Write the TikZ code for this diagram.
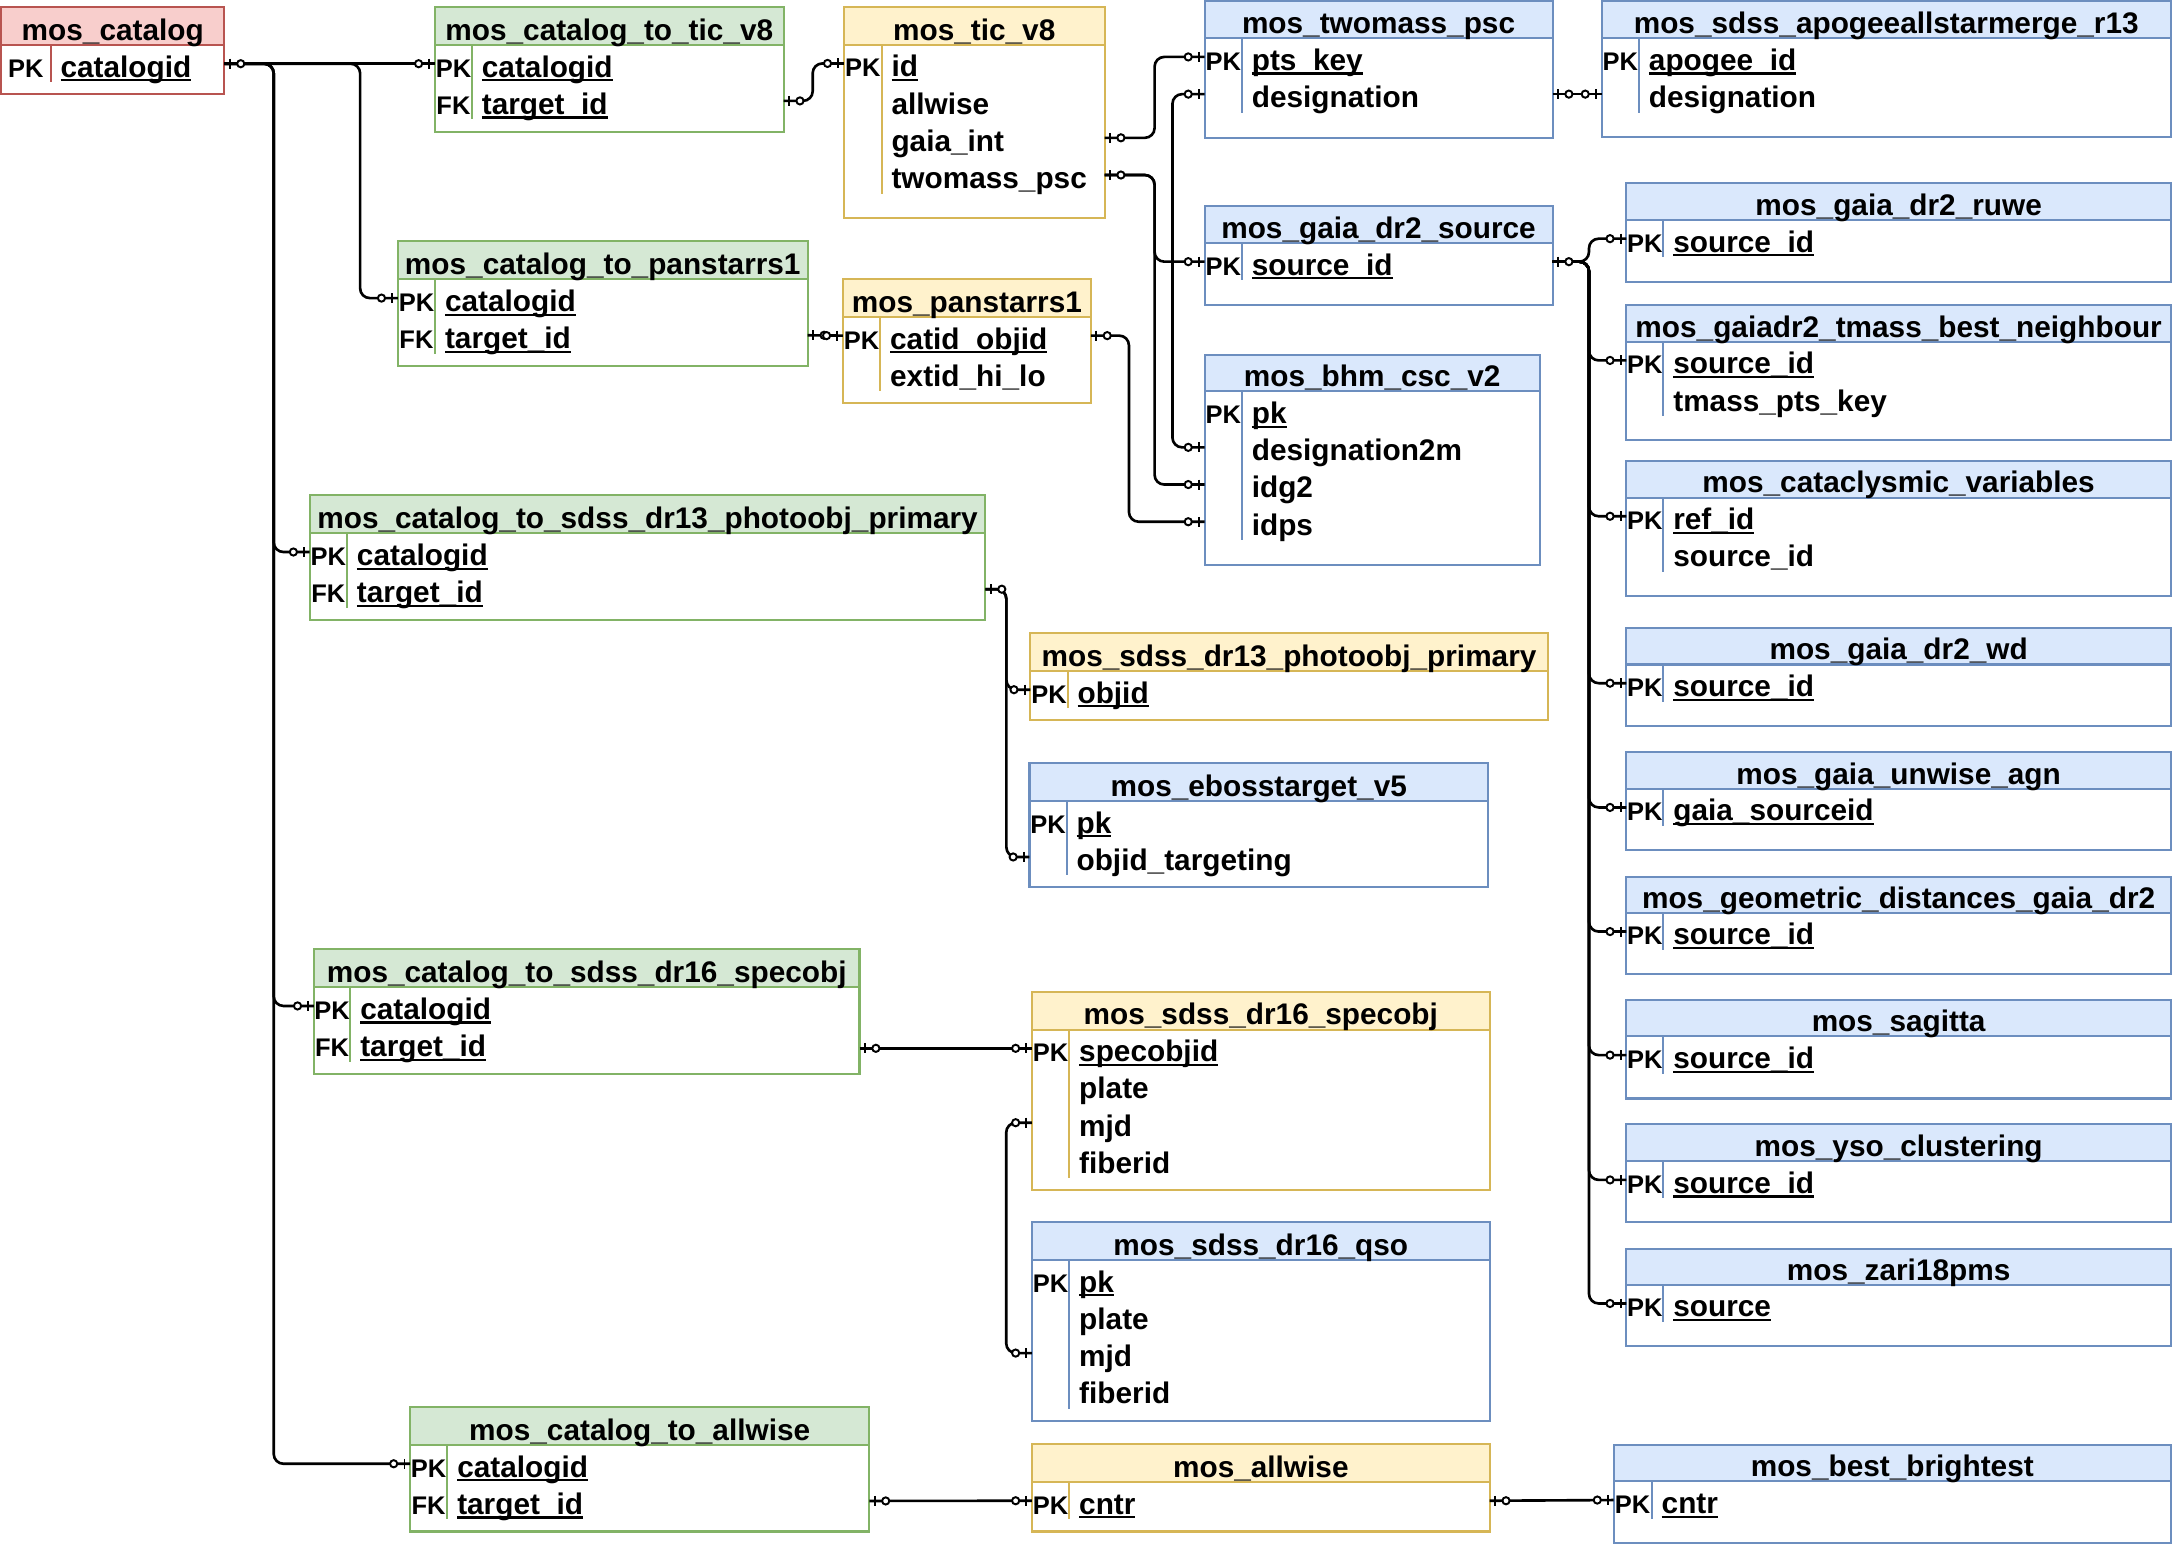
\documentclass[tikz,border=0pt]{standalone}
\usepackage{fontspec}
\setmainfont{Liberation Sans}
\usetikzlibrary{calc}
\definecolor{redfill}{HTML}{F8CECC}\definecolor{redline}{HTML}{B85450}
\definecolor{greenfill}{HTML}{D5E8D4}\definecolor{greenline}{HTML}{82B366}
\definecolor{yellowfill}{HTML}{FFF2CC}\definecolor{yellowline}{HTML}{D6B656}
\definecolor{bluefill}{HTML}{DAE8FC}\definecolor{blueline}{HTML}{6C8EBF}
\tikzset{
  titletext/.style={font=\bfseries\fontsize{21.5}{25}\selectfont, inner sep=0pt},
  fieldtext/.style={font=\bfseries\fontsize{21.5}{25}\selectfont, inner sep=0pt},
  keytext/.style={font=\bfseries\fontsize{18.4}{22}\selectfont, inner sep=0pt},
  tblnode/.style={inner sep=0pt, outer sep=0pt, draw=none},
  conn/.style={line width=1.9pt, rounded corners=7pt},
  mk/.style={line width=1.4pt},
}
\newcommand\ulk[1]{\setbox0=\hbox{#1}\rlap{\rule[-3pt]{\wd0}{1.5pt}}\box0}
\newcommand\ertable[9]{%
  \def\tnm{#1}\def\tline{#2line}\def\tx{#3}\def\tr{#5}\def\thb{#7}\def\tdv{#8}%
  \node[tblnode, minimum width={#5-#3}, minimum height={#6-#4}, anchor=north west] (#1) at (#3,#4) {};
  \fill[white] (#3,#4) rectangle (#5,#6);
  \fill[#2fill] (#3,#4) rectangle (#5,#7);
  \draw[draw=#2line, line width=1.5pt] (#3,#7) -- (#5,#7);
  \draw[draw=#2line, line width=1.5pt] (#3,#4) rectangle (#5,#6);
  \node[titletext, anchor=base] (#1-title) at ({(#3+#5)/2},{#7-3.4}) {#9};
}
\newcommand\errow[3]{%
  \pgfmathsetmacro\rb{\thb+23.2+26.85*(#1-1)}%
  \pgfmathsetmacro\rc{\thb+13.5+26.85*(#1-1)}%
  \pgfmathsetmacro\rt{\thb+26.85*(#1-1)}%
  \draw[draw=\tline, line width=1.5pt] (\tdv,\rt) -- (\tdv,{\rt+26.85});
  \node[keytext, anchor=base] (\tnm-k#1) at ({(\tx+\tdv)/2},\rb) {#2};
  \node[fieldtext, anchor=base west] (\tnm-f#1) at ({\tdv+7},\rb) {#3};
  \coordinate (\tnm-L#1) at (\tx,\rc);
  \coordinate (\tnm-R#1) at (\tr,\rc);
}
\newcommand\zo[2]{%
  \draw[mk] ($(#1)+({#2*4},-3.6)$) -- ($(#1)+({#2*4},3.6)$);
  \draw[mk, fill=white] ($(#1)+({#2*11.8},0)$) circle[radius=2.6];
}
\begin{document}
\begin{tikzpicture}[x=1pt, y=-1pt]
\useasboundingbox (0,0) rectangle (1568,1115);

% ---------- tables ----------
\ertable{catalog}{red}{0.8}{5.3}{162}{68}{32.5}{36.5}{mos\_catalog}
\errow{1}{PK}{\ulk{catalogid}}

\ertable{ctic}{green}{314}{5.3}{565.7}{95}{32.5}{340.7}{mos\_catalog\_to\_tic\_v8}
\errow{1}{PK}{\ulk{catalogid}}
\errow{2}{FK}{\ulk{target\_id}}

\ertable{tic}{yellow}{609.2}{5}{797.4}{157.4}{32.3}{636.4}{mos\_tic\_v8}
\errow{1}{PK}{\ulk{id}}
\errow{2}{}{allwise}
\errow{3}{}{gaia\_int}
\errow{4}{}{twomass\_psc}

\ertable{twom}{blue}{869.6}{0.8}{1120.8}{99.5}{27.6}{896.5}{mos\_twomass\_psc}
\errow{1}{PK}{\ulk{pts\_key}}
\errow{2}{}{designation}

\ertable{apo}{blue}{1156.2}{0.8}{1567.2}{98.9}{27.6}{1183.2}{mos\_sdss\_apogeeallstarmerge\_r13}
\errow{1}{PK}{\ulk{apogee\_id}}
\errow{2}{}{designation}

\ertable{gsrc}{blue}{869.6}{148.6}{1120.8}{220.2}{175.4}{896.5}{mos\_gaia\_dr2\_source}
\errow{1}{PK}{\ulk{source\_id}}

\ertable{bhm}{blue}{869.6}{256.1}{1111.6}{408.1}{282.6}{896.5}{mos\_bhm\_csc\_v2}
\errow{1}{PK}{\ulk{pk}}
\errow{2}{}{designation2m}
\errow{3}{}{idg2}
\errow{4}{}{idps}

\ertable{ctp}{green}{287.2}{174}{583.1}{264.2}{201.7}{314.1}{mos\_catalog\_to\_panstarrs1}
\errow{1}{PK}{\ulk{catalogid}}
\errow{2}{FK}{\ulk{target\_id}}

\ertable{pans}{yellow}{608.5}{201.7}{787.5}{290.9}{228.8}{635.4}{mos\_panstarrs1}
\errow{1}{PK}{\ulk{catid\_objid}}
\errow{2}{}{extid\_hi\_lo}

\ertable{ctdr13}{green}{223.6}{357.6}{711.4}{447.8}{385}{250.5}{mos\_catalog\_to\_sdss\_dr13\_photoobj\_primary}
\errow{1}{PK}{\ulk{catalogid}}
\errow{2}{FK}{\ulk{target\_id}}

\ertable{dr13}{yellow}{743.8}{457.2}{1117.3}{519.8}{484.4}{770.7}{mos\_sdss\_dr13\_photoobj\_primary}
\errow{1}{PK}{\ulk{objid}}

\ertable{eboss}{blue}{743.2}{551}{1074.2}{640.6}{578.3}{770}{mos\_ebosstarget\_v5}
\errow{1}{PK}{\ulk{pk}}
\errow{2}{}{objid\_targeting}

\ertable{ctdr16}{green}{226.6}{685.4}{620.5}{775.1}{712.7}{252.9}{mos\_catalog\_to\_sdss\_dr16\_specobj}
\errow{1}{PK}{\ulk{catalogid}}
\errow{2}{FK}{\ulk{target\_id}}

\ertable{sdr16}{yellow}{745}{716}{1075.4}{859.4}{743.3}{771.9}{mos\_sdss\_dr16\_specobj}
\errow{1}{PK}{\ulk{specobjid}}
\errow{2}{}{plate}
\errow{3}{}{mjd}
\errow{4}{}{fiberid}

\ertable{qso}{blue}{745}{882.3}{1075.4}{1026}{909.6}{771.9}{mos\_sdss\_dr16\_qso}
\errow{1}{PK}{\ulk{pk}}
\errow{2}{}{plate}
\errow{3}{}{mjd}
\errow{4}{}{fiberid}

\ertable{ctaw}{green}{296}{1015.6}{627.6}{1105.6}{1043.2}{322.9}{mos\_catalog\_to\_allwise}
\errow{1}{PK}{\ulk{catalogid}}
\errow{2}{FK}{\ulk{target\_id}}

\ertable{allw}{yellow}{745}{1042.3}{1075.4}{1105.6}{1069.9}{771.9}{mos\_allwise}
\errow{1}{PK}{\ulk{cntr}}

\ertable{bb}{blue}{1164.9}{1043.2}{1567.2}{1114.1}{1069.4}{1192.4}{mos\_best\_brightest}
\errow{1}{PK}{\ulk{cntr}}

\ertable{ruwe}{blue}{1174.1}{131.8}{1567.2}{203.6}{158.8}{1200.8}{mos\_gaia\_dr2\_ruwe}
\errow{1}{PK}{\ulk{source\_id}}

\ertable{tmass}{blue}{1174.1}{220.2}{1567.2}{317.7}{246.7}{1200.8}{mos\_gaiadr2\_tmass\_best\_neighbour}
\errow{1}{PK}{\ulk{source\_id}}
\errow{2}{}{tmass\_pts\_key}

\ertable{cv}{blue}{1174.1}{332.9}{1567.2}{430.4}{359.2}{1200.8}{mos\_cataclysmic\_variables}
\errow{1}{PK}{\ulk{ref\_id}}
\errow{2}{}{source\_id}

\ertable{wd}{blue}{1174.1}{453.2}{1567.2}{524.1}{479.7}{1200.8}{mos\_gaia\_dr2\_wd}
\errow{1}{PK}{\ulk{source\_id}}

\ertable{agn}{blue}{1174.1}{543.2}{1567.2}{613.3}{569.4}{1200.8}{mos\_gaia\_unwise\_agn}
\errow{1}{PK}{\ulk{gaia\_sourceid}}

\ertable{geo}{blue}{1174.1}{632.9}{1567.2}{702.9}{659}{1200.8}{mos\_geometric\_distances\_gaia\_dr2}
\errow{1}{PK}{\ulk{source\_id}}

\ertable{sag}{blue}{1174.1}{722.1}{1567.2}{793}{748.2}{1200.8}{mos\_sagitta}
\errow{1}{PK}{\ulk{source\_id}}

\ertable{yso}{blue}{1174.1}{811.7}{1567.2}{882.2}{838.3}{1200.8}{mos\_yso\_clustering}
\errow{1}{PK}{\ulk{source\_id}}

\ertable{zari}{blue}{1174.1}{901.4}{1567.2}{971.9}{927.5}{1200.8}{mos\_zari18pms}
\errow{1}{PK}{\ulk{source}}

% ---------- connectors ----------
\draw[conn] (catalog-R1) -- (ctic-L1);
\draw[conn] (catalog-R1) -| ([xshift=-27.2pt]ctp-L1) -- (ctp-L1);
\draw[conn] (catalog-R1) -| ([xshift=-26pt]ctdr13-L1) -- (ctdr13-L1);
\draw[conn] (catalog-R1) -| ([xshift=-29pt]ctdr16-L1) -- (ctdr16-L1);
\draw[conn] (catalog-R1) -| ([xshift=-98.4pt]ctaw-L1) -- (ctaw-L1);
\draw[conn] (ctic-R2) -| ([xshift=-22.5pt]tic-L1) -- (tic-L1);
\draw[conn] (tic-R3) -| ([xshift=-36.1pt]twom-L1) -- (twom-L1);
\draw[conn] (tic-R4) -| ([xshift=-36.1pt]gsrc-L1) -- (gsrc-L1);
\draw[conn] (tic-R4) -| ([xshift=-36.1pt]bhm-L3) -- (bhm-L3);
\draw[conn] (twom-L2) -| ([xshift=-23.2pt]bhm-L2) -- (bhm-L2);
\draw[conn] (pans-R1) -| ([xshift=-54.6pt]bhm-L4) -- (bhm-L4);
\draw[conn] (twom-R2) -- (apo-L2);
\foreach \t in {ruwe,tmass,cv,wd,agn,geo,sag,yso,zari}{
  \draw[conn] (gsrc-R1) -| ([xshift=-27pt]\t-L1) -- (\t-L1);
}
\draw[conn] (ctp-R2) -- (pans-L1);
\draw[conn] (ctdr13-R2) -| ([xshift=-17.3pt]dr13-L1) -- (dr13-L1);
\draw[conn] (ctdr13-R2) -| ([xshift=-16.7pt]eboss-L2) -- (eboss-L2);
\coordinate (p10s) at (ctdr16-R2 |- sdr16-L1);
\draw[conn] (p10s) -- (sdr16-L1);
\draw[conn] (sdr16-L3) -| ([xshift=-18.6pt]qso-L3) -- (qso-L3);
\draw[conn] (ctaw-R2) -- (allw-L1);
\draw[conn] (allw-R1) -- (bb-L1);

% ---------- markers ----------
\zo{catalog-R1}{1}
\zo{ctic-L1}{-1}
\zo{ctp-L1}{-1}
\zo{ctdr13-L1}{-1}
\zo{ctdr16-L1}{-1}
\zo{ctaw-L1}{-1}
\zo{ctic-R2}{1}
\zo{tic-L1}{-1}
\zo{tic-R3}{1}
\zo{twom-L1}{-1}
\zo{tic-R4}{1}
\zo{gsrc-L1}{-1}
\zo{bhm-L3}{-1}
\zo{twom-L2}{-1}
\zo{bhm-L2}{-1}
\zo{pans-R1}{1}
\zo{bhm-L4}{-1}
\zo{twom-R2}{1}
\zo{apo-L2}{-1}
\zo{gsrc-R1}{1}
\foreach \t in {ruwe,tmass,cv,wd,agn,geo,sag,yso,zari}{\zo{\t-L1}{-1}}
\zo{ctp-R2}{1}
\zo{pans-L1}{-1}
\zo{ctdr13-R2}{1}
\zo{dr13-L1}{-1}
\zo{eboss-L2}{-1}
\zo{p10s}{1}
\zo{sdr16-L1}{-1}
\zo{sdr16-L3}{-1}
\zo{qso-L3}{-1}
\zo{ctaw-R2}{1}
\zo{allw-L1}{-1}
\zo{allw-R1}{1}
\zo{bb-L1}{-1}
\end{tikzpicture}
\end{document}
